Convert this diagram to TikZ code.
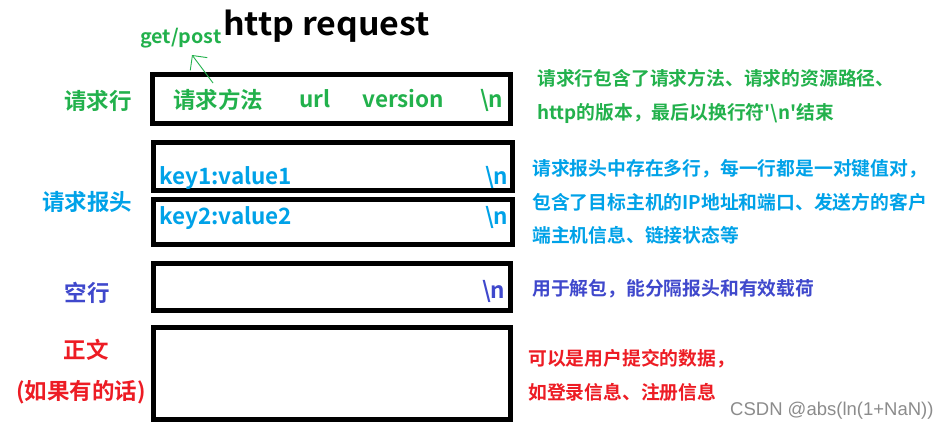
\documentclass[tikz,border=0pt]{standalone}
\usepackage{fontspec}
\setmainfont{Noto Sans CJK SC}[BoldFont={Noto Sans CJK SC Bold}]
\newfontfamily\mf{Noto Sans CJK SC}[BoldFont={Noto Sans CJK SC Bold}]
\newfontfamily\wmfont{Liberation Sans}
\usetikzlibrary{arrows.meta}
\definecolor{pgreen}{RGB}{34,177,76}
\definecolor{pblue}{RGB}{0,162,232}
\definecolor{pindigo}{RGB}{63,72,204}
\definecolor{pred}{RGB}{237,28,36}
\begin{document}
\begin{tikzpicture}[x=1pt,y=-1pt,
  box/.style={draw=black,line width=5pt,inner sep=0pt,outer sep=0pt},
  lbl/.style={inner sep=0pt,font=\bfseries\fontsize{22.5}{26}\selectfont},
  note/.style={inner sep=0pt,anchor=base west,font=\mf\bfseries\fontsize{18.8}{22}\selectfont},
  intext/.style={inner sep=0pt,anchor=base west,font=\bfseries\fontsize{22.5}{26}\selectfont}]
\useasboundingbox[fill=white] (0,0) rectangle (949,428);
% boxes
\node[box,minimum width=358pt,minimum height=49pt] (rl) at (331.5,99) {};
\node[box,minimum width=359pt,minimum height=48pt] (h1) at (333,166.5) {};
\node[box,minimum width=359pt,minimum height=45pt] (h2) at (333,222) {};
\node[box,minimum width=357pt,minimum height=47pt] (el) at (332,287) {};
\node[box,minimum width=357pt,minimum height=92pt] (bd) at (332,373.5) {};
% title
\node[inner sep=0pt,anchor=base west,font=\bfseries\fontsize{32}{36}\selectfont\addfontfeature{FakeStretch=1.06}] (title) at (223,36) {http request};
\node[inner sep=0pt,anchor=base west,text=pgreen,font=\bfseries\fontsize{19}{22}\selectfont\addfontfeature{FakeStretch=1.04}] (gp) at (140,44) {get/post};
\coordinate (gptip) at (192,55);
\coordinate (gptail) at (213,83);
\draw[pgreen,line width=0.9pt,-{Straight Barb[angle=90:15pt]}] (gptail) -- (gptip);
% left labels
\node[lbl,text=pgreen] (l1) at (98,101) {请求行};
\node[lbl,text=pblue] (l2) at (87,202) {请求报头};
\node[lbl,text=pindigo] (l3) at (87,293) {空行};
\node[lbl,text=pred] (l4) at (86,350) {正文};
\node[lbl,text=pred] (l5) at (81,392) {(如果有的话)};
% inside request line
\node[intext,text=pgreen] (m1) at (173,108) {请求方法};
\node[intext,text=pgreen] (m2) at (299,107) {url};
\node[intext,text=pgreen] (m3) at (362,107) {version};
\node[intext,text=pgreen] (m4) at (480,107) {\textbackslash n};
% headers
\node[intext,text=pblue] (k1) at (159,184) {key1:value1};
\node[intext,text=pblue] (k1n) at (485,184) {\textbackslash n};
\node[intext,text=pblue] (k2) at (159,224) {key2:value2};
\node[intext,text=pblue] (k2n) at (485,224) {\textbackslash n};
% empty line
\node[intext,text=pindigo] (en) at (482,298) {\textbackslash n};
% notes
\node[note,text=pgreen] (n1) at (537,85) {请求行包含了请求方法、请求的资源路径、};
\node[note,text=pgreen] (n2) at (537,119) {http的版本，最后以换行符'\textbackslash n'结束};
\node[note,text=pblue] (n3) at (532,175) {请求报头中存在多行，每一行都是一对键值对，};
\node[note,text=pblue] (n4) at (532,209) {包含了目标主机的IP地址和端口、发送方的客户};
\node[note,text=pblue] (n5) at (532,242) {端主机信息、链接状态等};
\node[note,text=pindigo] (n6) at (532,295) {用于解包，能分隔报头和有效载荷};
\node[note,text=pred] (n7) at (528,365) {可以是用户提交的数据，};
\node[note,text=pred] (n8) at (528,399) {如登录信息、注册信息};
\node[inner sep=0pt,anchor=base west,text=black!45,font=\wmfont\fontsize{18.5}{21}\selectfont] (wm) at (730,415) {CSDN @abs(ln(1+NaN))};
\end{tikzpicture}
\end{document}
